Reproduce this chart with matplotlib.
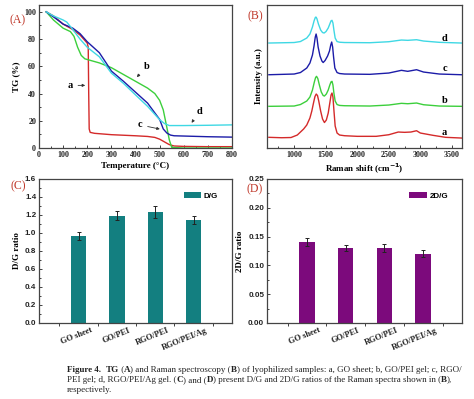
import matplotlib
matplotlib.use("Agg")
import matplotlib.pyplot as plt
import matplotlib.transforms as mtransforms
from matplotlib.ticker import MultipleLocator
import numpy as np

# ---------------- data ----------------
# (A) TG curves
tg_a_T = [30, 60, 100, 140, 170, 200, 204, 206, 208, 212, 230, 300, 400, 450, 480, 500, 520, 540, 560, 600, 700, 800]
tg_a_W = [100, 97, 91, 87, 83, 77, 74, 40, 14, 11.5, 10.8, 9.8, 9, 8.5, 7.8, 6.5, 4.5, 2.5, 1.5, 1.2, 1, 1]
tg_b_T = [30, 60, 100, 130, 145, 160, 175, 190, 210, 250, 300, 350, 400, 450, 480, 500, 515, 530, 540, 550, 600, 800]
tg_b_W = [100, 94, 88, 85.5, 82, 74, 68, 65.5, 64.5, 62.5, 59, 54, 49, 44, 40, 35, 28, 15, 6, 0.5, 0, 0]
tg_c_T = [30, 70, 100, 140, 170, 200, 250, 280, 300, 350, 400, 450, 500, 515, 530, 545, 560, 600, 700, 800]
tg_c_W = [100, 95, 91, 88, 84, 78, 70, 62, 56.5, 49, 41, 33, 21, 14, 11, 9.5, 9, 8.8, 8.3, 8]
tg_d_T = [30, 60, 100, 115, 140, 170, 200, 250, 300, 350, 400, 450, 500, 520, 540, 560, 600, 700, 800]
tg_d_W = [100, 97, 94, 92.5, 87, 80, 74, 67, 55, 47.5, 39, 30.6, 20.8, 18, 16.5, 16.5, 16.5, 16.7, 17]
tg_labels = ["a", "b", "c", "d"]

# (B) Raman spectra (offset, arbitrary units)
ra_a_x = [600, 800, 950, 1050, 1150, 1200, 1250, 1280, 1310, 1330, 1350, 1370, 1390, 1420, 1450, 1480, 1510, 1540, 1565, 1585, 1600, 1615, 1630, 1650, 1680, 1720, 1800, 2000, 2300, 2500, 2650, 2750, 2850, 2940, 3000, 3200, 3400, 3650]
ra_a_y = [10.7, 10.3, 10.5, 13, 19, 23, 30, 37, 46, 51.5, 54, 52.5, 47, 37, 29, 25.5, 28, 35, 45, 53, 55, 51, 38, 22, 15, 13, 12.3, 11.7, 11.7, 13.3, 16, 15.7, 16, 17.3, 15, 12.7, 10.7, 10]
ra_b_x = [600, 1000, 1100, 1200, 1250, 1290, 1320, 1340, 1355, 1375, 1400, 1430, 1460, 1480, 1510, 1540, 1565, 1585, 1600, 1615, 1630, 1650, 1680, 1720, 1800, 2200, 2500, 2700, 2800, 2940, 3050, 3300, 3650]
ra_b_y = [41.7, 42, 43.5, 47, 51, 58, 66, 70.5, 71.7, 69.5, 63, 56, 52.5, 52, 54, 58, 63, 66.2, 66.7, 63, 55, 47, 43.5, 42.6, 42.3, 42, 43, 44.7, 44.3, 45, 43.3, 42, 41.7]
ra_c_x = [600, 1000, 1100, 1200, 1250, 1290, 1315, 1335, 1348, 1362, 1380, 1410, 1440, 1460, 1490, 1530, 1560, 1580, 1595, 1610, 1625, 1645, 1680, 1720, 1800, 2200, 2500, 2700, 2800, 2940, 3050, 3300, 3650]
ra_c_y = [73.3, 74, 75.5, 80, 85, 93, 102, 111, 114, 110, 101, 92, 87, 85.5, 87.5, 92, 97, 103, 106, 101, 91, 80, 75.5, 74.5, 74, 73.7, 75, 77.7, 76.7, 78.3, 76, 74, 73.3]
ra_d_x = [600, 1000, 1100, 1200, 1250, 1290, 1315, 1335, 1345, 1360, 1385, 1420, 1450, 1475, 1505, 1540, 1565, 1585, 1600, 1615, 1630, 1650, 1680, 1720, 1800, 2200, 2500, 2700, 2800, 2940, 3050, 3300, 3650]
ra_d_y = [105, 105.5, 106.5, 110, 114, 121, 127, 130.5, 131, 129.5, 124, 118, 115.5, 115, 116.5, 120, 124, 127.2, 127.7, 125, 118, 110, 106.5, 105.8, 105.5, 105.3, 106.3, 108, 107.7, 108.3, 107, 105.7, 105]

# (C), (D) bar charts
samples = ["GO sheet", "GO/PEI", "RGO/PEI", "RGO/PEI/Ag"]
dg_ratio = [0.97, 1.19, 1.23, 1.14]
dg_err = [0.045, 0.05, 0.065, 0.045]
d2g_ratio = [0.14, 0.13, 0.13, 0.12]
d2g_err = [0.007, 0.005, 0.007, 0.006]

# ---------------- style ----------------
SERIF = ["Liberation Serif", "DejaVu Serif"]
SANS = ["Liberation Sans", "DejaVu Sans"]
RED = "#d42a2a"
GREEN = "#3ccf3c"
BLUE = "#1c1ca8"
CYAN = "#3fd8e4"
TEAL = "#137f80"
PURPLE = "#7c0a7c"
PANEL = "#c0392b"
FRAME = "#444444"
TICK_FS = 5.8

fig = plt.figure(figsize=(4.74, 3.99), dpi=100)

def style_axes(ax, tickfamily=SERIF):
    for s in ax.spines.values():
        s.set_color(FRAME)
        s.set_linewidth(0.9)
    ax.tick_params(which="both", direction="in", width=0.6, colors="#222222",
                   labelsize=TICK_FS, pad=2)
    ax.tick_params(which="major", length=2.5)
    ax.tick_params(which="minor", length=1.5)
    for lab in ax.get_xticklabels() + ax.get_yticklabels():
        lab.set_fontfamily(tickfamily)
        lab.set_fontweight("bold")

lab_kw = dict(fontfamily=SERIF, fontweight="bold", fontsize=6.5)

# ---------- (A) ----------
axA = fig.add_axes([0.0823, 0.629, 0.4072, 0.3584])
for T, W, c in [(tg_a_T, tg_a_W, RED), (tg_b_T, tg_b_W, GREEN),
                (tg_c_T, tg_c_W, BLUE), (tg_d_T, tg_d_W, CYAN)]:
    axA.plot(T, W, color=c, lw=1.0)
axA.set_xlim(0, 800)
axA.set_ylim(0, 105)
axA.xaxis.set_major_locator(MultipleLocator(100))
axA.xaxis.set_minor_locator(MultipleLocator(50))
axA.yaxis.set_major_locator(MultipleLocator(20))
axA.yaxis.set_minor_locator(MultipleLocator(10))
style_axes(axA)
axA.set_xlabel("Temperature (°C)", labelpad=2, **lab_kw)
axA.set_ylabel("TG (%)", labelpad=3, **lab_kw)
arrow = dict(arrowstyle="-|>", color="#333333", lw=0.6, mutation_scale=4)
ann_kw = dict(fontfamily=SERIF, fontweight="bold", fontsize=7.5, ha="center", va="center")
axA.annotate(tg_labels[0], xy=(203, 46), xytext=(128, 46), arrowprops=arrow, **ann_kw)
axA.annotate(tg_labels[1], xy=(398, 50.5), xytext=(446, 60), arrowprops=arrow, **ann_kw)
axA.annotate(tg_labels[2], xy=(512, 13.5), xytext=(418, 17), arrowprops=arrow, **ann_kw)
axA.annotate(tg_labels[3], xy=(626, 16.8), xytext=(665, 27), arrowprops=arrow, **ann_kw)

# ---------- (B) ----------
axB = fig.add_axes([0.5633, 0.629, 0.4114, 0.3584])
for x, y, c in [(ra_a_x, ra_a_y, RED), (ra_b_x, ra_b_y, GREEN),
                (ra_c_x, ra_c_y, BLUE), (ra_d_x, ra_d_y, CYAN)]:
    axB.plot(x, y, color=c, lw=1.0)
axB.set_xlim(570, 3660)
axB.set_ylim(0, 143)
axB.xaxis.set_major_locator(MultipleLocator(500))
axB.xaxis.set_minor_locator(MultipleLocator(250))
axB.set_yticks([])
style_axes(axB)
axB.set_xlabel("Raman shift (cm$^{\\mathbf{-1}}$)", labelpad=2, **lab_kw)
axB.set_ylabel("Intensity (a.u.)", labelpad=3, **lab_kw)
for lab, yy in zip(tg_labels, [16, 47.7, 79.3, 110]):
    axB.text(3385, yy, lab, **ann_kw)

# ---------- (C), (D) ----------
def bar_panel(rect, vals, errs, color, legend, ylim, major, minor, ylabel, fmt):
    ax = fig.add_axes(rect)
    pos = np.arange(len(samples))
    ax.bar(pos, vals, width=0.4, color=color, label=legend,
           yerr=errs, error_kw=dict(ecolor="#222222", elinewidth=0.7, capsize=1.6, capthick=0.7))
    ax.set_xlim(-1.03, 4.0)
    ax.set_ylim(*ylim)
    ax.yaxis.set_major_locator(MultipleLocator(major))
    ax.yaxis.set_minor_locator(MultipleLocator(minor))
    ax.yaxis.set_major_formatter(plt.FormatStrFormatter(fmt))
    ax.set_xticks(pos)
    ax.set_xticks(np.arange(-0.5, 4.0, 1.0), minor=True)
    style_axes(ax, tickfamily=SANS)
    ax.tick_params(axis="x", which="major", length=0, pad=1)
    ax.tick_params(axis="x", which="minor", direction="out", length=2)
    ax.set_xticklabels(samples, rotation=22, ha="right", rotation_mode="anchor",
                       fontfamily=SERIF, fontweight="bold", fontsize=6.0)
    off = mtransforms.ScaledTranslation(0.12, -0.02, fig.dpi_scale_trans)
    for lab in ax.get_xticklabels():
        lab.set_transform(lab.get_transform() + off)
    ax.set_ylabel(ylabel, labelpad=3, **lab_kw)
    ax.legend(loc="center right", bbox_to_anchor=(0.965, 0.88), frameon=False,
              handlelength=2.2, handleheight=0.8, handletextpad=0.3,
              prop=dict(family=SANS, weight="bold", size=5.8))
    return ax

axC = bar_panel([0.0823, 0.1905, 0.4072, 0.3609], dg_ratio, dg_err, TEAL, "D/G",
                (0, 1.6), 0.2, 0.1, "D/G ratio", "%.1f")
axD = bar_panel([0.5633, 0.1905, 0.4114, 0.3609], d2g_ratio, d2g_err, PURPLE, "2D/G",
                (0, 0.25), 0.05, 0.025, "2D/G ratio", "%.2f")

# panel letters
for txt, x, y in [("(A)", 0.036, 0.948), ("(B)", 0.538, 0.958),
                  ("(C)", 0.038, 0.532), ("(D)", 0.538, 0.525)]:
    fig.text(x, y, txt, color=PANEL, fontfamily=SERIF, fontsize=8.5, ha="center", va="center")

# ---------- caption ----------
cap_lines = [
    [("Figure 4.", "bold"), ("  ", "normal"), ("TG", "bold"), (" (", "normal"), ("A", "bold"),
     (") and Raman spectroscopy (", "normal"), ("B", "bold"),
     (") of lyophilized samples: a, GO sheet; b, GO/PEI gel; c, RGO/", "normal")],
    [("PEI gel; d, RGO/PEI/Ag gel. (", "normal"), ("C", "bold"), (") and (", "normal"), ("D", "bold"),
     (") present D/G and 2D/G ratios of the Raman spectra shown in (", "normal"), ("B", "bold"),
     ("),", "normal")],
    [("respectively.", "normal")],
]
fig.canvas.draw()
renderer = fig.canvas.get_renderer()
y0 = 1 - 370 / 399
dy = 9.8 / 399
for i, line in enumerate(cap_lines):
    x = 67 / 474
    for txt, w in line:
        t = fig.text(x, y0 - i * dy, txt, fontfamily=SERIF, fontweight=w, fontsize=6.5,
                     color="#222222", va="center", ha="left")
        bb = t.get_window_extent(renderer)
        x += bb.width / fig.bbox.width

fig.savefig("out.png", dpi=100)
